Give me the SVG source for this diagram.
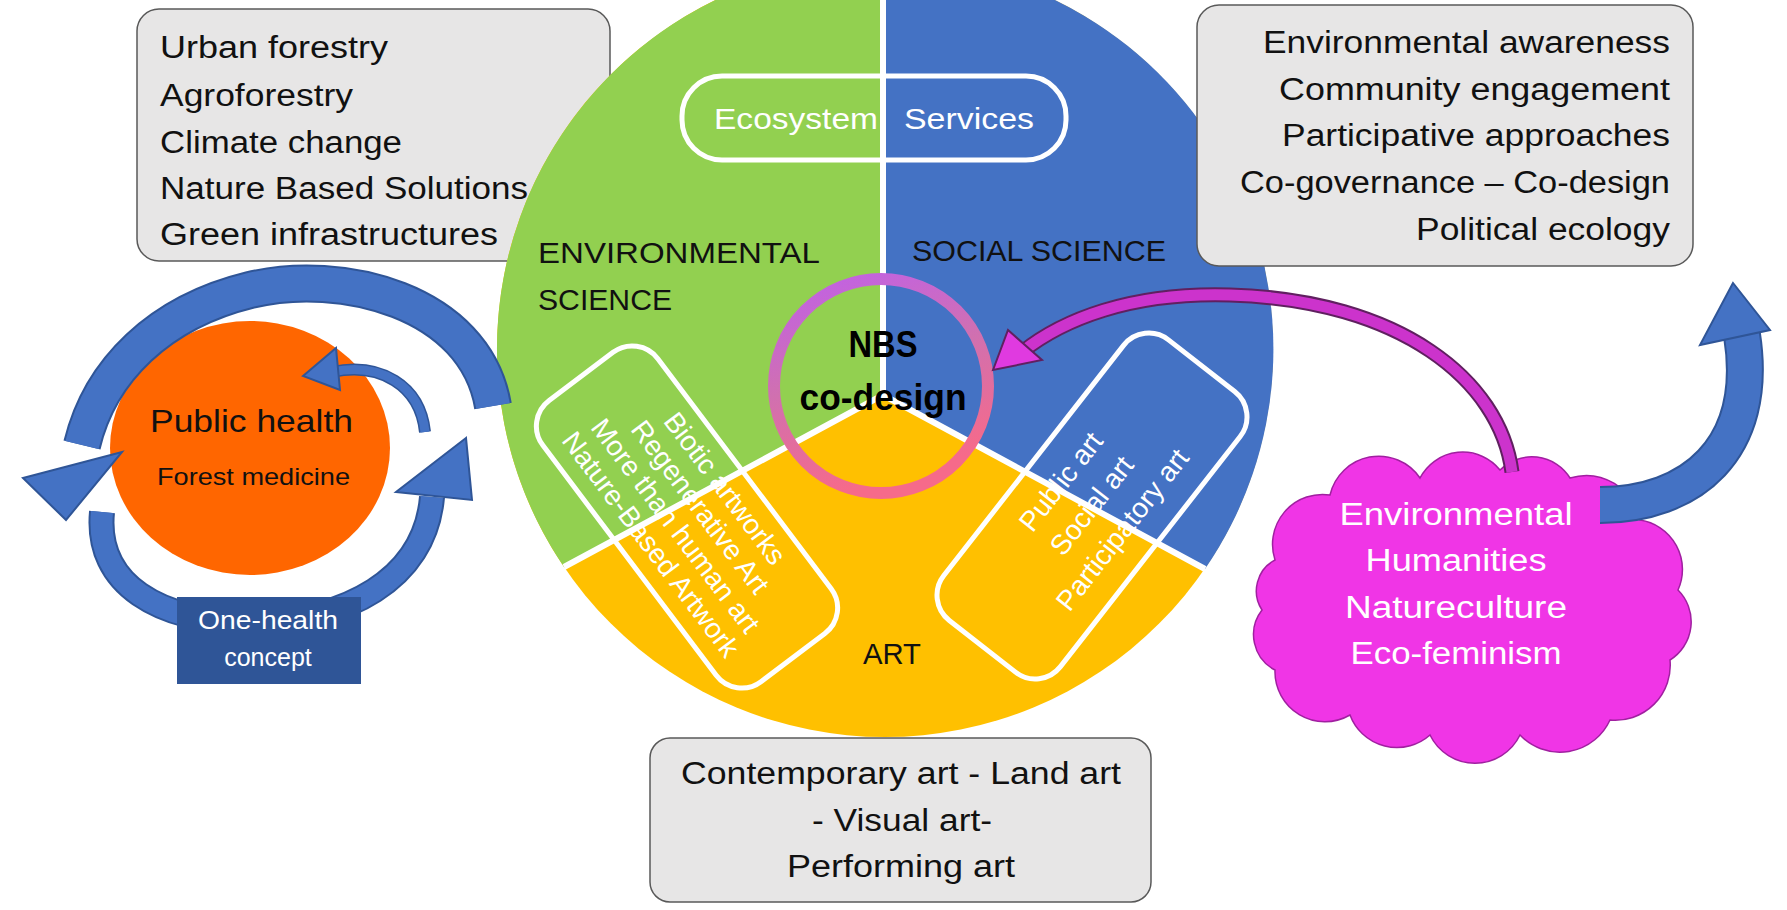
<svg xmlns="http://www.w3.org/2000/svg" width="1787" height="910" viewBox="0 0 1787 910">
<defs>
<style>
text{font-family:"Liberation Sans",Arial,sans-serif;}
.box{fill:#e7e6e6;stroke:#595959;stroke-width:1.5;}
.bt{font-size:31px;fill:#111;}
.lbl{font-size:30px;fill:#111;}
.wt{font-size:28px;fill:#fff;}
.ct{font-size:31px;fill:#fff;text-anchor:middle;}
.wline{stroke:#fff;stroke-width:6;fill:none;}
.wbox{fill:none;stroke:#fff;stroke-width:5;}
.barc{fill:none;stroke:#4472c4;stroke-linecap:butt;}
.barcO{fill:none;stroke:#2f5597;stroke-linecap:butt;}
.bhead{fill:#4472c4;stroke:#2f5597;stroke-width:2;}
</style>
<linearGradient id="ring" x1="0" y1="0" x2="0.3" y2="1">
<stop offset="0" stop-color="#c060e8"/>
<stop offset="0.5" stop-color="#d070b0"/>
<stop offset="1" stop-color="#f66a8a"/>
</linearGradient>
</defs>
<rect width="1787" height="910" fill="#fff"/>

<g id="env-box">
<rect class="box" x="137" y="9" width="473" height="252" rx="22"/>
<text class="bt" x="160" y="58" textLength="228" lengthAdjust="spacingAndGlyphs">Urban forestry</text>
<text class="bt" x="160" y="106" textLength="193" lengthAdjust="spacingAndGlyphs">Agroforestry</text>
<text class="bt" x="160" y="153" textLength="242" lengthAdjust="spacingAndGlyphs">Climate change</text>
<text class="bt" x="160" y="199" textLength="368" lengthAdjust="spacingAndGlyphs">Nature Based Solutions</text>
<text class="bt" x="160" y="245" textLength="338" lengthAdjust="spacingAndGlyphs">Green infrastructures</text>
</g>

<g id="wheel">
<circle cx="885" cy="349" r="388" fill="#ffc000"/>
<path d="M883,395 L883,-39 A388,388 0 0 0 564,567 Z" fill="#92d050"/>
<path d="M883,395 L883,-39 A388,388 0 0 1 1205,569 Z" fill="#4472c4"/>
<path class="wline" d="M883,-40 L883,395 L564,567 M883,395 L1205,569"/>
</g>

<g id="ecosystem-services">
<rect class="wbox" x="682" y="76" width="384" height="84" rx="40"/>
<text x="714" y="129" font-size="29" fill="#fff" textLength="164" lengthAdjust="spacingAndGlyphs">Ecosystem</text>
<text x="904" y="129" font-size="29" fill="#fff" textLength="130" lengthAdjust="spacingAndGlyphs">Services</text>
</g>

<g id="sector-labels">
<text class="lbl" x="538" y="263" textLength="282" lengthAdjust="spacingAndGlyphs">ENVIRONMENTAL</text>
<text class="lbl" x="538" y="310" textLength="134" lengthAdjust="spacingAndGlyphs">SCIENCE</text>
<text class="lbl" x="912" y="261" textLength="254" lengthAdjust="spacingAndGlyphs">SOCIAL SCIENCE</text>
<text class="lbl" x="863" y="664" textLength="58" lengthAdjust="spacingAndGlyphs">ART</text>
</g>

<g id="art-env">
<g transform="translate(687,517) rotate(53)">
<rect class="wbox" x="-176" y="-72" width="352" height="144" rx="32"/>
<text class="wt" x="0" y="-38" text-anchor="middle">Biotic artworks</text>
<text class="wt" x="0" y="-7" text-anchor="middle">Regenerative Art</text>
<text class="wt" x="0" y="24" text-anchor="middle">More than human art</text>
<text class="wt" x="0" y="55" text-anchor="middle">Nature-Based Artwork</text>
</g>
</g>

<g id="art-social">
<g transform="translate(1092,506) rotate(-52)">
<rect class="wbox" x="-178" y="-74" width="356" height="148" rx="32"/>
<text class="wt" x="0" y="-30" text-anchor="middle">Public art</text>
<text class="wt" x="0" y="9" text-anchor="middle">Social art</text>
<text class="wt" x="0" y="48" text-anchor="middle">Participatory art</text>
</g>
</g>

<g id="nbs">
<circle cx="881" cy="386" r="107" fill="none" stroke="url(#ring)" stroke-width="12"/>
<text x="883" y="357" font-size="36" font-weight="bold" text-anchor="middle" fill="#000" textLength="69" lengthAdjust="spacingAndGlyphs">NBS</text>
<text x="883" y="410" font-size="36" font-weight="bold" text-anchor="middle" fill="#000" textLength="167" lengthAdjust="spacingAndGlyphs">co-design</text>
</g>

<g id="social-box">
<rect class="box" x="1197" y="5" width="496" height="261" rx="22"/>
<text class="bt" x="1670" y="53" text-anchor="end" textLength="407" lengthAdjust="spacingAndGlyphs">Environmental awareness</text>
<text class="bt" x="1670" y="100" text-anchor="end" textLength="391" lengthAdjust="spacingAndGlyphs">Community engagement</text>
<text class="bt" x="1670" y="146" text-anchor="end" textLength="388" lengthAdjust="spacingAndGlyphs">Participative approaches</text>
<text class="bt" x="1670" y="193" text-anchor="end" textLength="430" lengthAdjust="spacingAndGlyphs">Co-governance – Co-design</text>
<text class="bt" x="1670" y="240" text-anchor="end" textLength="254" lengthAdjust="spacingAndGlyphs">Political ecology</text>
</g>

<g id="art-box">
<rect class="box" x="650" y="738" width="501" height="164" rx="20"/>
<text class="bt" x="901" y="784" text-anchor="middle" textLength="440" lengthAdjust="spacingAndGlyphs">Contemporary art - Land art</text>
<text class="bt" x="902" y="831" text-anchor="middle" textLength="180" lengthAdjust="spacingAndGlyphs">- Visual art-</text>
<text class="bt" x="901" y="877" text-anchor="middle" textLength="228" lengthAdjust="spacingAndGlyphs">Performing art</text>
</g>

<g id="public-health">
<ellipse cx="250" cy="448" rx="140" ry="127" fill="#ff6600"/>
<text x="150" y="432" font-size="32" fill="#111" textLength="203" lengthAdjust="spacingAndGlyphs">Public health</text>
<text x="157" y="485" font-size="24" fill="#111" textLength="193" lengthAdjust="spacingAndGlyphs">Forest medicine</text>
</g>

<g id="cloud">
<path d="M1275,560 A50,50 0 0 1 1330,495 A50,50 0 0 1 1420,478 A48,48 0 0 1 1500,470 A45,45 0 0 1 1570,478 A55,55 0 0 1 1640,520 A50,50 0 0 1 1678,590 A45,45 0 0 1 1670,660 A55,55 0 0 1 1610,720 A55,55 0 0 1 1520,735 A50,50 0 0 1 1430,735 A50,50 0 0 1 1350,715 A50,50 0 0 1 1275,670 A40,40 0 0 1 1262,610 A35,35 0 0 1 1275,560 Z" fill="#f035e6" stroke="#a020a0" stroke-width="1.5"/>
<text class="ct" x="1456" y="525" textLength="233" lengthAdjust="spacingAndGlyphs">Environmental</text>
<text class="ct" x="1456" y="571" textLength="181" lengthAdjust="spacingAndGlyphs">Humanities</text>
<text class="ct" x="1456" y="618" textLength="222" lengthAdjust="spacingAndGlyphs">Natureculture</text>
<text class="ct" x="1456" y="664" textLength="211" lengthAdjust="spacingAndGlyphs">Eco-feminism</text>
</g>

<g id="connectors">
<path class="barcO" stroke-width="38" d="M493,406 C475,300 340,268 250,290 C160,312 100,370 82,445"/>
<path class="barc" stroke-width="34" d="M493,406 C475,300 340,268 250,290 C160,312 100,370 82,445"/>
<polygon class="bhead" points="23,478 122,452 66,520"/>
<path class="barcO" stroke-width="26" d="M102,512 C95,585 160,622 250,622 C345,622 425,580 432,497"/>
<path class="barc" stroke-width="22" d="M102,512 C95,585 160,622 250,622 C345,622 425,580 432,497"/>
<polygon class="bhead" points="466,438 396,492 472,500"/>
<path class="barcO" stroke-width="12" d="M425,432 C420,385 380,362 332,372"/>
<path class="barc" stroke-width="9" d="M425,432 C420,385 380,362 332,372"/>
<polygon class="bhead" points="303,376 336,348 340,390"/>
<path fill="none" stroke="#602060" stroke-width="15" d="M1512,472 C1500,380 1400,300 1230,295 C1130,292 1062,320 1022,352"/>
<path fill="none" stroke="#cc33cc" stroke-width="11" d="M1512,472 C1500,380 1400,300 1230,295 C1130,292 1062,320 1022,352"/>
<polygon points="993,370 1008,330 1042,360" fill="#e03ae0" stroke="#602060" stroke-width="2"/>
<path class="barcO" stroke-width="38" d="M1600,505 C1690,505 1760,450 1742,335"/>
<path class="barc" stroke-width="34" d="M1600,505 C1690,505 1760,450 1742,335"/>
<polygon class="bhead" points="1733,283 1700,345 1770,330"/>
</g>

<g id="one-health">
<rect x="177" y="597" width="184" height="87" fill="#2f5597"/>
<text x="268" y="629" font-size="25" fill="#fff" text-anchor="middle" textLength="140" lengthAdjust="spacingAndGlyphs">One-health</text>
<text x="268" y="666" font-size="25" fill="#fff" text-anchor="middle">concept</text>
</g>
</svg>
